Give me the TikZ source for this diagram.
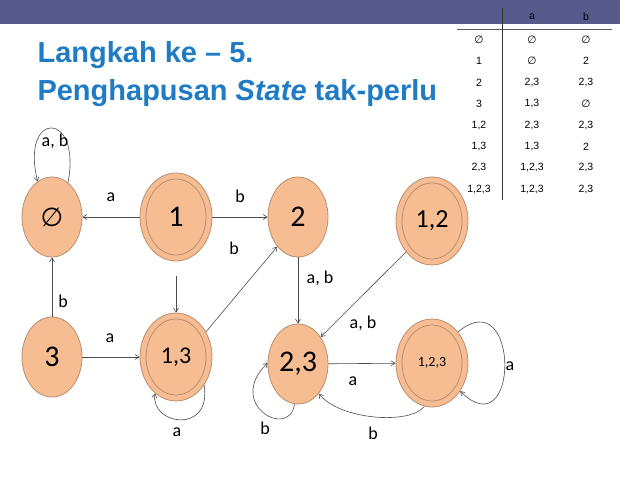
\documentclass[tikz,border=0pt]{standalone}
\usepackage{fontspec}
\setmainfont{Carlito}
\newfontfamily\arialfont{Liberation Sans}
\newfontfamily\djfont{DejaVu Sans}
\usetikzlibrary{arrows.meta,shapes.geometric}
\definecolor{st}{HTML}{F6BD92}
\definecolor{sd}{HTML}{B98E70}
\definecolor{bar}{HTML}{575A8D}
\definecolor{ttl}{HTML}{1F7BC4}
\begin{document}
\begin{tikzpicture}[x=1pt,y=-1pt,
  stt/.style={ellipse,fill=st,draw=sd,line width=0.8pt,minimum width=60pt,minimum height=80pt,inner sep=0pt,font=\fontsize{30}{30}\selectfont},
  acc/.style={stt,minimum width=72pt,minimum height=88pt},
  tr/.style={draw=black!70,line width=0.6pt,-{Straight Barb[length=4pt,width=5pt]}},
  lb/.style={font=\fontsize{18}{18}\selectfont},
  tb/.style={font=\arialfont\fontsize{10.5}{12}\selectfont}]
\useasboundingbox (0,0) rectangle (638,478);
\fill[bar] (0,0) rectangle (620,24);
\node[anchor=west,text=ttl,font=\arialfont\bfseries\fontsize{29}{29}\selectfont] (t1) at (34,55) {Langkah ke – 5.};
\node[anchor=west,text=ttl,font=\arialfont\bfseries\fontsize{29}{29}\selectfont] (t2) at (34,93) {Penghapusan \textit{State} tak-perlu};
% table
\draw[gray!70!black,line width=0.8pt] (457,29) -- (612,29);
\draw[black!80,line width=0.8pt] (502,8) -- (502,200);
\node[tb] (ha) at (532,17) {a};
\node[tb] (hb) at (586,17) {b};
\foreach \xr/\xc/\xd [count=\i] in {{\djfont ∅}/{\djfont ∅}/{\djfont ∅},1/{\djfont ∅}/2,2/{2,3}/{2,3},3/{1,3}/{\djfont ∅},{1,2}/{2,3}/{2,3},{1,3}/{1,3}/2,{2,3}/{1,2,3}/{2,3},{1,2,3}/{1,2,3}/{2,3}}{
  \node[tb] (r\i) at (479,{40+21.3*(\i-1)}) {\xr};
  \node[tb] (c\i) at (532,{40+21.3*(\i-1)}) {\xc};
  \node[tb] (d\i) at (586,{40+21.3*(\i-1)}) {\xd};
}
% states
\node[stt] (e) at (52,217) {\djfont\fontsize{26}{26}\selectfont ∅};
\node[acc] (s1) at (176,217) {};
\node[stt] (s2) at (298,217) {2};
\node[acc] (s12) at (432,221) {};
\node[stt] (s3) at (52,357) {3};
\node[acc] (s13) at (176,357) {};
\node[stt] (s23) at (298,364) {2,3};
\node[acc] (s123) at (432,363) {};
\foreach \n in {s1,s12,s13,s123}{\draw[sd,line width=0.8pt] (\n.center) ellipse (30pt and 38pt);}
\node[font=\fontsize{30}{30}\selectfont] (l1) at (s1) {1};
\node[font=\fontsize{26}{26}\selectfont] (l12) at (s12) {1,2};
\node[font=\fontsize{24}{24}\selectfont] (l13) at (s13) {1,3};
\node[font=\fontsize{14}{14}\selectfont] (l123) at (s123) {1,2,3};
% transitions
\draw[tr] (e.65) .. controls (82,110) and (20,110) .. (e.112);
\node[lb] (la1) at (55,141) {a, b};
\draw[tr] (s1) -- (e); \node[lb] (la2) at (111,197) {a};
\draw[tr] (s1) -- (s2); \node[lb] (la3) at (240,196) {b};
\draw[tr] (s3) -- (e); \node[lb] (la4) at (63,301) {b};
\draw[tr] (s3) -- (s13); \node[lb] (la5) at (110,338) {a};
\coordinate (init) at (176,276);
\draw[tr] (init) -- (s13);
\draw[tr] (s13.-45) .. controls (212,435) and (150,425) .. (s13.-120);
\node[lb] (la6) at (177,432) {a};
\draw[tr] (s13.40) -- (s2.-125); \node[lb] (la7) at (234,248) {b};
\draw[tr] (s2) -- (s23); \node[lb] (la8) at (320,278) {a, b};
\draw[tr] (s12.-130) -- (s23.50); \node[lb] (la9) at (363,323) {a, b};
\draw[tr] (s23) -- (s123); \node[lb] (la10) at (353,381) {a};
\draw[tr] (s23.-95) .. controls (290,440) and (225,405) .. (s23.178);
\node[lb] (la11) at (265,428) {b};
\draw[tr] (s123.-100) .. controls (410,425) and (340,420) .. (s23.-55);
\node[lb] (la12) at (373,433) {b};
\draw[tr] (s123.50) .. controls (520,280) and (520,450) .. (s123.-45);
\node[lb] (la13) at (510,366) {a};
\end{tikzpicture}
\end{document}
